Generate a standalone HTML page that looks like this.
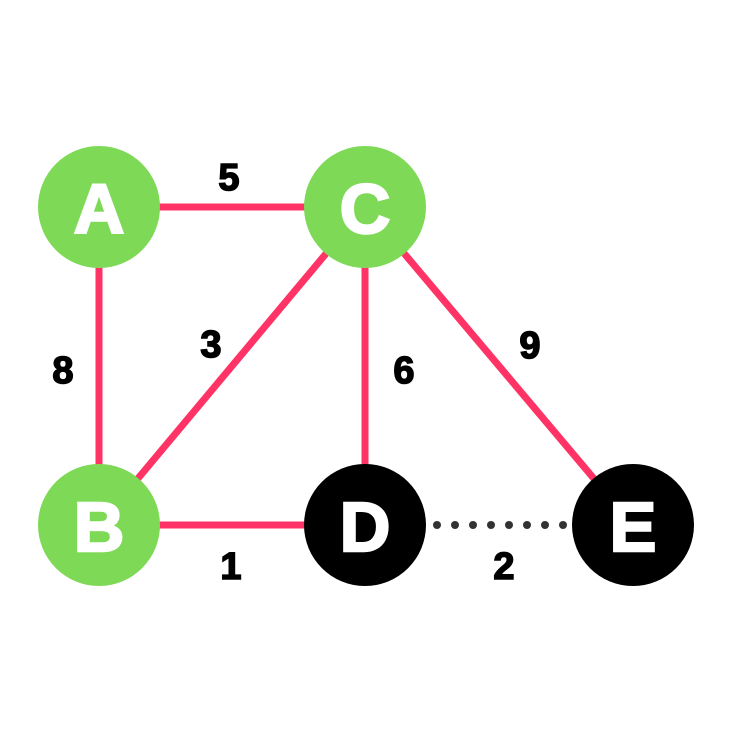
<!DOCTYPE html>
<html><head><meta charset="utf-8"><style>html,body{margin:0;padding:0;background:#fff}</style></head>
<body>
<svg width="730" height="730" viewBox="0 0 730 730" xmlns="http://www.w3.org/2000/svg">
<g stroke="#FF3366" stroke-width="7" stroke-linecap="butt">
<line x1="99" y1="207" x2="365" y2="207"/>
<line x1="99" y1="207" x2="99" y2="525"/>
<line x1="99" y1="525" x2="365" y2="525"/>
<line x1="365" y1="207" x2="365" y2="525"/>
<line x1="365" y1="207" x2="99" y2="525"/>
<line x1="365" y1="207" x2="633" y2="525"/>
</g>
<g fill="#333">
<circle cx="437" cy="525" r="4"/><circle cx="455" cy="525" r="4"/><circle cx="473" cy="525" r="4"/><circle cx="491" cy="525" r="4"/><circle cx="509" cy="525" r="4"/><circle cx="527" cy="525" r="4"/><circle cx="545" cy="525" r="4"/><circle cx="563" cy="525" r="4"/>
</g>
<circle cx="99" cy="207" r="61" fill="#7ED957"/>
<circle cx="365" cy="207" r="61" fill="#7ED957"/>
<circle cx="99" cy="525" r="61" fill="#7ED957"/>
<circle cx="365" cy="525" r="61" fill="#000"/>
<circle cx="633" cy="525" r="61" fill="#000"/>
<g font-family="Liberation Sans, sans-serif" font-weight="bold" font-size="70" fill="#fff" stroke="#fff" stroke-width="2.5" text-anchor="middle">
<text x="99" y="233">A</text>
<text x="365" y="233">C</text>
<text x="99" y="551">B</text>
<text x="365" y="551">D</text>
<text x="633" y="551">E</text>
</g>
<g font-family="Liberation Sans, sans-serif" font-weight="bold" font-size="38" fill="#000" stroke="#000" stroke-width="1.5" text-anchor="middle">
<text x="229" y="190">5</text>
<text x="63" y="383">8</text>
<text x="211" y="357">3</text>
<text x="404" y="383">6</text>
<text x="530" y="358">9</text>
<text x="231" y="579">1</text>
<text x="504" y="579">2</text>
</g>
</svg>
</body></html>
